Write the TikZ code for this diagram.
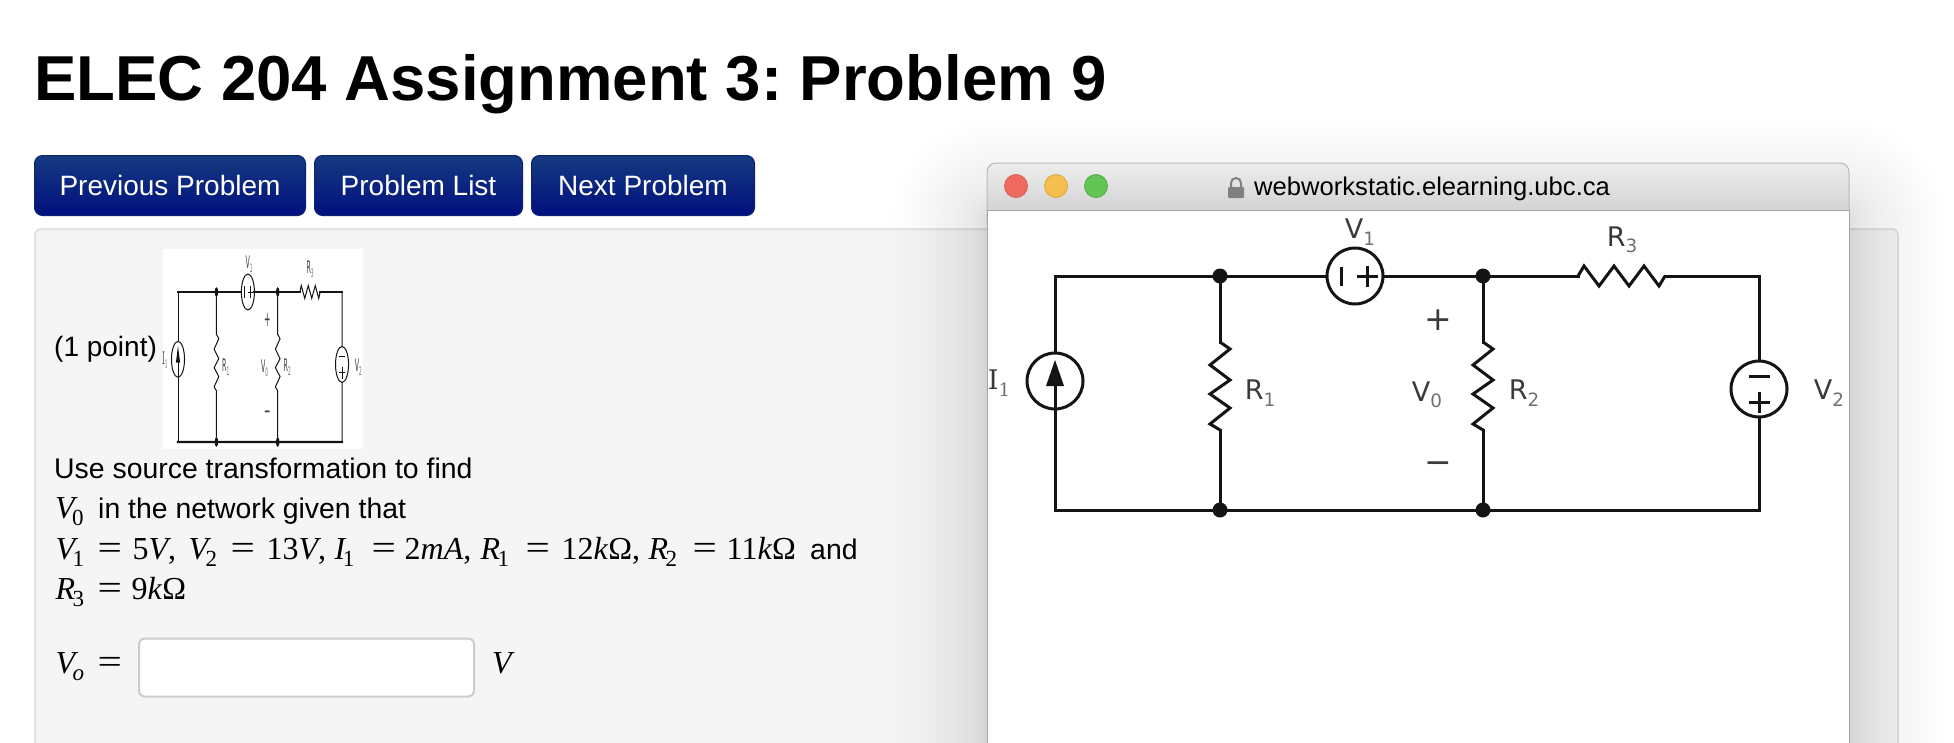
\documentclass[tikz,border=0pt]{standalone}
\usepackage{fontspec}
\setmainfont{Liberation Sans}
\newfontfamily\djv{DejaVu Sans}
\newfontfamily\djs{DejaVu Serif}
\newfontfamily\timesf{Liberation Serif}
\frenchspacing
\definecolor{panelbg}{HTML}{F5F5F5}
\definecolor{panelln}{HTML}{E3E3E3}
\definecolor{btntop}{HTML}{163A80}
\definecolor{btnbot}{HTML}{00107F}
\definecolor{btnln}{HTML}{0A2470}
\definecolor{wire}{HTML}{141414}
\definecolor{lab}{HTML}{3A3A3A}
\definecolor{sublab}{HTML}{707070}
\newcommand{\sublbl}[2]{{\color{lab}#1}\raisebox{-.24em}{\scalebox{.68}{\color{sublab}#2}}}
\newcommand{\mv}[2]{{\itshape #1}\kern-.08em\raisebox{-.24em}{\scalebox{.72}{#2}}}
\newcommand{\piece}[2]{\makebox[0pt][l]{\hspace*{#1pt}#2}}
\newcommand{\eqs}{\scalebox{1.35}[1.1]{=}}
% #1 prefix, #2 vertical wire width, #3 horizontal wire width
\newcommand{\circuitdraw}[3]{%
  \coordinate (#1tl) at (0,0);
  \coordinate (#1bl) at (0,234);
  \coordinate (#1tr) at (704,0);
  \coordinate (#1br) at (704,234);
  \node[junct] (#1j1) at (165,0) {};
  \node[junct] (#1j2) at (428,0) {};
  \node[junct] (#1j3) at (165,234) {};
  \node[junct] (#1j4) at (428,234) {};
  \node[srcnode,line width=#2] (#1is) at (0,105) {};
  \node[srcnode,line width=#2] (#1va) at (300,0) {};
  \node[srcnode,line width=#2] (#1vb) at (704,113) {};
  \coordinate (#1r1a) at (165,66);
  \coordinate (#1r1b) at (165,154);
  \coordinate (#1r2a) at (428,66);
  \coordinate (#1r2b) at (428,154);
  \coordinate (#1r3a) at (523,0);
  \coordinate (#1r3b) at (610,0);
  \coordinate (#1arr) at (0,110);
  \draw[wirestyle,line width=#3] (#1tl) -- (#1j1) -- (#1va) (#1va) -- (#1j2) -- (#1r3a);
  \draw[wirestyle,line width=#3] (#1r3b) -- (#1tr);
  \draw[wirestyle,line width=#3] (#1bl) -- (#1j3) -- (#1j4) -- (#1br);
  \draw[wirestyle,line width=#2] (#1tl) -- (#1is) (#1bl) -- (#1arr);
  \draw[wirestyle,line width=#2] (#1j1) -- (#1r1a) (#1r1b) -- (#1j3);
  \draw[wirestyle,line width=#2] (#1j2) -- (#1r2a) (#1r2b) -- (#1j4);
  \draw[wirestyle,line width=#2] (#1tr) -- (#1vb) (#1vb) -- (#1br);
  \fill[wire] (0,84) -- (9,110) -- (-9,110) -- cycle;
  \foreach \p/\q in {r1/165,r2/428}{%
    \draw[zigstyle,line width=#2] (#1\p a) -- ++(10,7) -- ++(-20,16) -- ++(20,15) -- ++(-20,14) -- ++(20,14) -- ++(-20,16) -- (#1\p b);
  }
  \draw[zigstyle,line width=#2] (#1r3a) -- ++(6,-10) -- ++(15,20) -- ++(15,-20) -- ++(15,20) -- ++(15,-20) -- ++(15,20) -- (#1r3b);
  \draw[wirestyle,line width=#2] (286,-8) -- (286,8);
  \draw[wirestyle,line width=#2] (303,0) -- (321,0) (312,-9) -- (312,9);
  \draw[wirestyle,line width=#2] (695,100) -- (713,100);
  \draw[wirestyle,line width=#2] (695,126) -- (713,126) (704,117) -- (704,135);
  \node[lbl] (#1lva) at (305,-44) {\sublbl{V}{1}};
  \node[lbl] (#1lr3) at (567,-36) {\sublbl{R}{3}};
  \node[lbl] (#1lis) at (-56,107) {{\djs\sublbl{I}{1}}};
  \node[lbl] (#1lr1) at (205,117) {\sublbl{R}{1}};
  \node[lbl] (#1lv0) at (372,119) {\sublbl{V}{0}};
  \node[lbl] (#1lr2) at (469,117) {\sublbl{R}{2}};
  \node[lbl] (#1lvb) at (774,117) {\sublbl{V}{2}};
  \node[lbl,font=\djv\fontsize{33}{33}\selectfont] (#1lp) at (383,44) {+};
  \node[lbl,font=\djv\fontsize{33}{33}\selectfont] (#1lm) at (383,192) {−};
}
\tikzset{
  junct/.style={circle,fill=wire,inner sep=0pt,minimum size=15pt,transform shape},
  srcnode/.style={circle,draw=wire,fill=none,inner sep=0pt,minimum size=56pt,transform shape},
  wirestyle/.style={draw=wire,line cap=rect,line join=miter},
  zigstyle/.style={draw=wire,line cap=butt,line join=miter},
  lbl/.style={font=\djv\fontsize{27}{27}\selectfont,text=lab,inner sep=0pt,transform shape},
  btn/.style={rounded corners=8pt,draw=btnln,line width=1pt,top color=btntop,bottom color=btnbot},
  btntext/.style={font=\fontsize{28}{28}\selectfont,text=white,inner sep=0pt},
  body/.style={font=\fontsize{28.4}{29}\selectfont,text=black,inner sep=0pt,anchor=base west},
  mathl/.style={font=\timesf\fontsize{32}{32}\selectfont,text=black,inner sep=0pt,anchor=base west},
  light/.style={circle,inner sep=0pt,minimum size=23pt,line width=.8pt}
}
\begin{document}
\begin{tikzpicture}[x=1pt,y=-1pt]
\path[use as bounding box] (0,0) rectangle (1954,742);
\clip (0,0) rectangle (1954,742);
\fill[white] (0,0) rectangle (1954,742);
% title
\node[anchor=base west,inner sep=0pt,font=\bfseries\fontsize{63.5}{64}\selectfont] (title) at (34,100) {ELEC 204 Assignment 3: Problem 9};
% buttons
\node[btn,minimum width=271pt,minimum height=60pt,inner sep=0pt,anchor=north west] (b1) at (34,155) {};
\node[btn,minimum width=208pt,minimum height=60pt,inner sep=0pt,anchor=north west] (b2) at (314,155) {};
\node[btn,minimum width=223pt,minimum height=60pt,inner sep=0pt,anchor=north west] (b3) at (531,155) {};
\node[btntext] (t1) at (b1) {Previous Problem};
\node[btntext] (t2) at (b2) {Problem List};
\node[btntext] (t3) at (b3) {Next Problem};
% panel
\draw[fill=panelbg,draw=panelln,line width=2pt,rounded corners=6pt] (35,229) rectangle (1898,800);
% thumbnail
\node[fill=white,inner sep=0pt,minimum width=200pt,minimum height=200pt,anchor=north west] (thumb) at (163,249) {};
\begin{scope}[shift={(178,292)},xscale=.233,yscale=.641]
\circuitdraw{s}{1pt}{2.4pt}
\end{scope}
\node[body,font=\fontsize{28}{28}\selectfont] (pts) at (54,356) {(1 point)};
% text
\node[body] (l1) at (54,478) {Use source transformation to find};
\node[mathl] (l2) at (55,518) {\mv{V}{0}};
\node[body] (l2b) at (98,518) {in the network given that};
\node[mathl] (l3) at (55,559) {\piece{0}{\mv{V}{1}}\piece{42}{\eqs}\piece{77}{5\textit{V},}\piece{133}{\mv{V}{2}}\piece{175}{\eqs}\piece{211}{13\textit{V},}\piece{279}{\mv{I}{1}}\piece{316}{\eqs}\piece{349}{2\textit{mA},}\piece{425}{\mv{R}{1}}\piece{470}{\eqs}\piece{506}{12\textit{k}Ω,}\piece{593}{\mv{R}{2}}\piece{637}{\eqs}\piece{671}{11\textit{k}Ω}};
\node[body] (l3b) at (810,559) {and};
\node[mathl] (l4) at (55,599) {\piece{0}{\mv{R}{3}}\piece{42}{\eqs}\piece{76}{9\textit{k}Ω}};
\node[mathl] (l5) at (55,673) {\piece{0}{{\itshape V}\kern-.08em\raisebox{-.24em}{\scalebox{.72}{\itshape o}}}\piece{42}{\eqs}};
\node[draw=black!20,line width=2pt,fill=white,rounded corners=6pt,minimum width=335pt,minimum height=58pt,inner sep=0pt,anchor=north west] (inp) at (138,637.5) {};
\node[mathl] (l6) at (492,673) {\textit{V}};
% window shadow
\foreach \i in {1,...,36}{
  \pgfmathsetmacro{\dd}{95*(\i/36)^2}
  \pgfmathsetmacro{\rr}{\dd+4}
  \fill[black,opacity=.0058,rounded corners=\rr pt] ({987-\dd},{215-\dd}) rectangle ({1849+\dd},900);
}
% window
\path[rounded corners=9pt,top color=black!7,bottom color=black!22,draw=black!28,line width=1pt] (987,163) rectangle (1849,232);
\fill[white] (987,210) rectangle (1849,800);
\draw[black!35,line width=1pt] (987,210) -- (1849,210);
\draw[black!35,line width=1pt] (987,210) -- (987,800) (1849,210) -- (1849,800);
\node[light,fill={rgb,255:red,238;green,106;blue,95},draw={rgb,255:red,215;green,90;blue,80}] (red) at (1016,186) {};
\node[light,fill={rgb,255:red,245;green,191;blue,79},draw={rgb,255:red,220;green,165;blue,60}] (yel) at (1056,186) {};
\node[light,fill={rgb,255:red,97;green,196;blue,84},draw={rgb,255:red,80;green,170;blue,70}] (grn) at (1096,186) {};
% lock
\fill[black!50,rounded corners=1pt] (1228,187) rectangle (1244,198);
\draw[black!50,line width=2pt] (1231,188) -- (1231,183) arc[start angle=180,end angle=360,radius=5] -- (1241,188);
\node[anchor=base west,inner sep=0pt,font=\fontsize{25.6}{26}\selectfont] (url) at (1254,195) {webworkstatic.elearning.ubc.ca};
% main circuit
\begin{scope}[shift={(1055,276)}]
\circuitdraw{m}{3pt}{3pt}
\end{scope}
\end{tikzpicture}
\end{document}
